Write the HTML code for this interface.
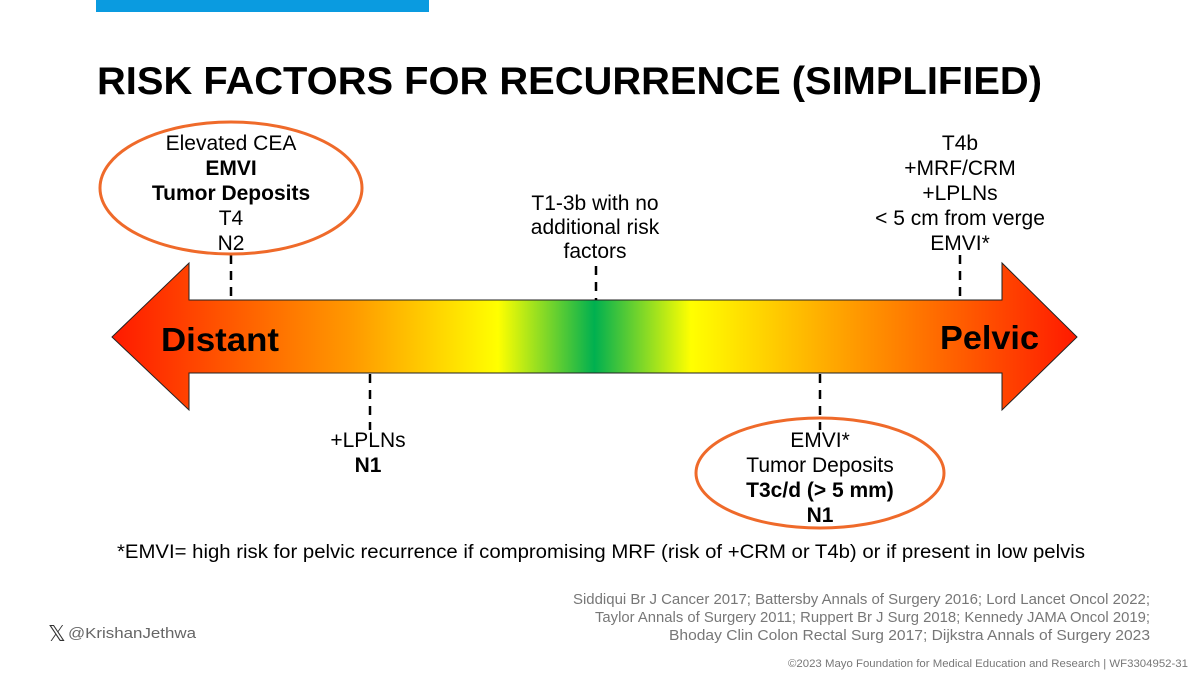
<!DOCTYPE html>
<html><head><meta charset="utf-8"><style>
body{margin:0;width:1200px;height:675px;background:#fff;overflow:hidden;font-family:"Liberation Sans",Arial,sans-serif}
svg text{font-family:"Liberation Sans",Arial,sans-serif}
</style></head><body>
<svg width="1200" height="675" viewBox="0 0 1200 675">
<defs>
<linearGradient id="g" x1="112" x2="1077" y1="0" y2="0" gradientUnits="userSpaceOnUse">
<stop offset="0" stop-color="#ff1a00"/>
<stop offset="0.25" stop-color="#ff9a00"/>
<stop offset="0.40" stop-color="#ffff00"/>
<stop offset="0.50" stop-color="#00b050"/>
<stop offset="0.60" stop-color="#ffff00"/>
<stop offset="0.77" stop-color="#ff9a00"/>
<stop offset="1" stop-color="#ff1a00"/>
</linearGradient>
</defs>
<rect x="96" y="0" width="333" height="12" fill="#0a9be0"/>
<text x="97" y="94" font-size="39" font-weight="bold" fill="#000" textLength="945" lengthAdjust="spacingAndGlyphs">RISK FACTORS FOR RECURRENCE (SIMPLIFIED)</text>

<path d="M112,337 L189,263 L189,300 L1002,300 L1002,263 L1077,337 L1002,410 L1002,373 L189,373 L189,410 Z" fill="url(#g)" stroke="#222" stroke-width="1"/>
<text x="161" y="351" font-size="33" font-weight="bold" textLength="118" lengthAdjust="spacingAndGlyphs">Distant</text>
<text x="940" y="349" font-size="33" font-weight="bold" textLength="99" lengthAdjust="spacingAndGlyphs">Pelvic</text>

<g stroke="#000" stroke-width="2.5" stroke-dasharray="9,7">
<line x1="231" y1="255" x2="231" y2="300"/>
<line x1="596" y1="266" x2="596" y2="300"/>
<line x1="960" y1="255" x2="960" y2="300"/>
<line x1="370" y1="374" x2="370" y2="430"/>
<line x1="820" y1="374" x2="820" y2="430"/>
</g>

<ellipse cx="231" cy="188" rx="131" ry="66" fill="none" stroke="#ef6a2a" stroke-width="3"/>
<g font-size="21" text-anchor="middle">
<text x="231" y="150">Elevated CEA</text>
<text x="231" y="175" font-weight="bold">EMVI</text>
<text x="231" y="200" font-weight="bold">Tumor Deposits</text>
<text x="231" y="225">T4</text>
<text x="231" y="250">N2</text>
</g>
<g font-size="21" text-anchor="middle">
<text x="595" y="210">T1-3b with no</text>
<text x="595" y="234">additional risk</text>
<text x="595" y="258">factors</text>
</g>
<g font-size="21" text-anchor="middle">
<text x="960" y="150">T4b</text>
<text x="960" y="175">+MRF/CRM</text>
<text x="960" y="200">+LPLNs</text>
<text x="960" y="225">&lt; 5 cm from verge</text>
<text x="960" y="250">EMVI*</text>
</g>
<g font-size="21" text-anchor="middle">
<text x="368" y="447">+LPLNs</text>
<text x="368" y="472" font-weight="bold">N1</text>
</g>
<ellipse cx="820" cy="473" rx="124" ry="55" fill="none" stroke="#ef6a2a" stroke-width="3"/>
<g font-size="21" text-anchor="middle">
<text x="820" y="447">EMVI*</text>
<text x="820" y="472">Tumor Deposits</text>
<text x="820" y="497" font-weight="bold">T3c/d (&gt; 5 mm)</text>
<text x="820" y="522" font-weight="bold">N1</text>
</g>
<text x="117" y="558" font-size="19" textLength="968" lengthAdjust="spacingAndGlyphs">*EMVI= high risk for pelvic recurrence if compromising MRF (risk of +CRM or T4b) or if present in low pelvis</text>

<g font-size="15" fill="#777">
<text x="573" y="604" textLength="577" lengthAdjust="spacingAndGlyphs">Siddiqui Br J Cancer 2017; Battersby Annals of Surgery 2016; Lord Lancet Oncol 2022;</text>
<text x="595" y="622" textLength="555" lengthAdjust="spacingAndGlyphs">Taylor Annals of Surgery 2011; Ruppert Br J Surg 2018; Kennedy JAMA Oncol 2019;</text>
<text x="669" y="640" textLength="481" lengthAdjust="spacingAndGlyphs">Bhoday Clin Colon Rectal Surg 2017; Dijkstra Annals of Surgery 2023</text>
</g>
<text x="48" y="641" font-size="22" fill="#333">𝕏</text>
<text x="68" y="638" font-size="15" fill="#666" textLength="128" lengthAdjust="spacingAndGlyphs">@KrishanJethwa</text>
<text x="788" y="667" font-size="11" fill="#777" textLength="400" lengthAdjust="spacingAndGlyphs">©2023 Mayo Foundation for Medical Education and Research  |  WF3304952-31</text>
</svg>
</body></html>
